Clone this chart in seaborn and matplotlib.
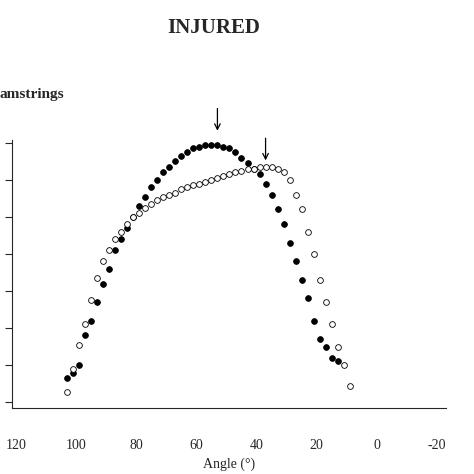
import matplotlib
matplotlib.use("Agg")
import pandas as pd
import seaborn as sns
import matplotlib.pyplot as plt

sns.set_style("ticks")
plt.rcParams["font.family"] = ["Liberation Serif", "DejaVu Serif"]

filled_angle = [103, 101, 99, 97, 95, 93, 91, 89, 87, 85, 83, 81, 79, 77, 75, 73, 71, 69, 67, 65,
                63, 61, 59, 57, 55, 53, 51, 49, 47, 45, 43, 41, 39, 37, 35, 33, 31, 29, 27, 25,
                23, 21, 19, 17, 15, 13]
filled_val = [0.65, 0.8, 1.0, 1.8, 2.2, 2.7, 3.2, 3.6, 4.1, 4.4, 4.7, 5.0, 5.3, 5.55, 5.8, 6.0, 6.2,
              6.35, 6.5, 6.65, 6.75, 6.85, 6.9, 6.95, 6.95, 6.95, 6.9, 6.85, 6.75, 6.6, 6.45, 6.3,
              6.15, 5.9, 5.6, 5.2, 4.8, 4.3, 3.8, 3.3, 2.8, 2.2, 1.7, 1.5, 1.2, 1.1]
open_angle = [103, 101, 99, 97, 95, 93, 91, 89, 87, 85, 83, 81, 79, 77, 75, 73, 71, 69, 67, 65,
              63, 61, 59, 57, 55, 53, 51, 49, 47, 45, 43, 41, 39, 37, 35, 33, 31, 29, 27, 25,
              23, 21, 19, 17, 15, 13, 11, 9]
open_val = [0.27, 0.9, 1.55, 2.1, 2.75, 3.35, 3.8, 4.1, 4.4, 4.6, 4.8, 5.0, 5.1, 5.25, 5.35, 5.45,
            5.55, 5.6, 5.65, 5.75, 5.8, 5.85, 5.9, 5.95, 6.0, 6.05, 6.1, 6.15, 6.2, 6.25, 6.3, 6.3,
            6.35, 6.35, 6.35, 6.3, 6.2, 6.0, 5.6, 5.2, 4.6, 4.0, 3.3, 2.7, 2.1, 1.5, 1.0, 0.45]
arrow_angles = [53, 37]
arrow_tops = [8.0, 7.2]

df_f = pd.DataFrame({"angle": filled_angle, "val": filled_val})
df_o = pd.DataFrame({"angle": open_angle, "val": open_val})

fig = plt.figure(figsize=(4.74, 4.74), dpi=100)
ax = fig.add_axes([0.025, 0.139, 0.915, 0.566])
sns.scatterplot(data=df_f, x="angle", y="val", ax=ax, color="black", s=17, edgecolor="black", linewidth=0.6)
sns.scatterplot(data=df_o, x="angle", y="val", ax=ax, color="white", s=17, edgecolor="black", linewidth=0.6)

for a, t in zip(arrow_angles, arrow_tops):
    ax.annotate("", xy=(a, t - 0.75), xytext=(a, t), annotation_clip=False,
                arrowprops=dict(arrowstyle="->", color="black", lw=0.9))

ax.set_xlim(121.3, -22.8)
ax.set_ylim(-0.16, 7.08)
ax.set_xticks([120, 100, 80, 60, 40, 20, 0, -20])
ax.set_xticklabels(["120", "100", "80", "60", "40", "20", "0", "-20"], fontsize=10)
ax.set_yticks(range(0, 8))
ax.set_yticklabels([])
ax.tick_params(axis="y", length=5, direction="out")
ax.tick_params(axis="x", length=0, pad=22)
ax.set_xlabel("Angle (°)", fontsize=10, labelpad=4)
ax.set_ylabel("")
sns.despine(ax=ax)

fig.text(0.45, 0.94, "INJURED", ha="center", va="center", fontsize=15, fontweight="bold")
fig.text(0.0, 0.80, "amstrings", ha="left", va="center", fontsize=11, fontweight="bold")

fig.savefig("out.png", dpi=100)
